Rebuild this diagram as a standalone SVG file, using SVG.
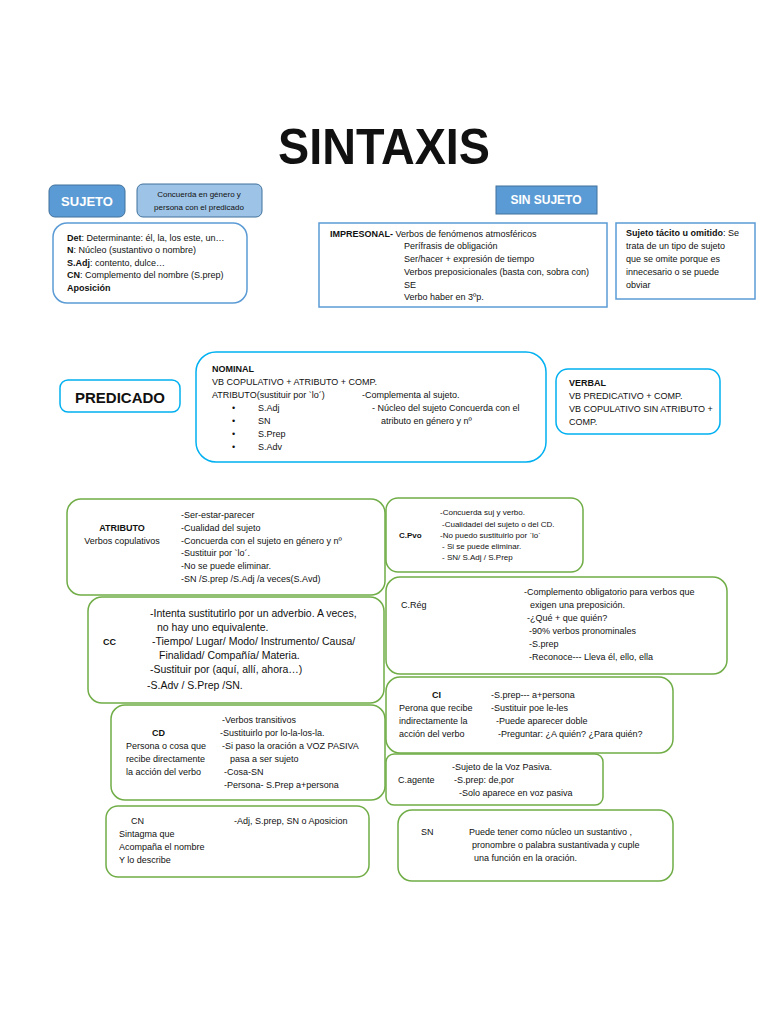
<svg xmlns="http://www.w3.org/2000/svg" width="768" height="1024" viewBox="0 0 768 1024">
<style>
text{font-family:"Liberation Sans",Arial,sans-serif;font-size:9px;fill:#111}
.b{font-weight:bold}
.s{font-size:8px}
.h{font-size:13px;font-weight:bold;fill:#fff}
.blue{fill:#fff;stroke:#5b9bd5;stroke-width:1.5}
.cyan{fill:#fff;stroke:#00b0f0;stroke-width:1.5}
.green{fill:#fff;stroke:#70ad47;stroke-width:1.5}
</style>
<rect width="768" height="1024" fill="#fff"/>
<text x="384" y="164" text-anchor="middle" style="font-size:50px;font-weight:bold" textLength="212" lengthAdjust="spacingAndGlyphs">SINTAXIS</text>
<g id="sujeto"><rect x="49" y="185" width="76" height="32" rx="6" fill="#5b9bd5" stroke="#41719c"/><text x="87" y="206" class="h" text-anchor="middle">SUJETO</text></g>
<g id="concuerda"><rect x="137" y="184" width="125" height="33" rx="6" fill="#9dc3e6" stroke="#41719c"/><text x="199" y="197" class="s" text-anchor="middle">Concuerda en género y</text><text x="199" y="210" class="s" text-anchor="middle">persona con el predicado</text></g>
<g id="sujeto-det"><rect x="53" y="223" width="194" height="80" rx="14" class="blue"/>
<text x="67" y="241"><tspan class="b">Det</tspan>: Determinante: él, la, los este, un…</text>
<text x="67" y="253"><tspan class="b">N</tspan>: Núcleo (sustantivo o nombre)</text>
<text x="67" y="266"><tspan class="b">S.Adj</tspan>: contento, dulce…</text>
<text x="67" y="278"><tspan class="b">CN</tspan>: Complemento del nombre (S.prep)</text>
<text x="67" y="291" class="b">Aposición</text></g>
<g id="sin-sujeto"><rect x="496" y="186" width="101" height="28" fill="#5b9bd5" stroke="#41719c"/><text x="546" y="204" class="h" text-anchor="middle" style="font-size:12px">SIN SUJETO</text></g>
<g id="impersonal"><rect x="319" y="223" width="288" height="84" class="blue"/>
<text x="330" y="237"><tspan class="b">IMPRESONAL-</tspan>  Verbos de fenómenos atmosféricos</text>
<text x="404" y="249">Perífrasis de obligación</text>
<text x="404" y="262">Ser/hacer + expresión de tiempo</text>
<text x="404" y="275">Verbos preposicionales (basta con, sobra con)</text>
<text x="404" y="288">SE</text>
<text x="404" y="300">Verbo haber en 3ºp.</text></g>
<g id="tacito"><rect x="616" y="223" width="139" height="76" class="blue"/>
<text x="626" y="236"><tspan class="b">Sujeto tácito u omitido</tspan>: Se</text>
<text x="626" y="249">trata de un tipo de sujeto</text>
<text x="626" y="262">que se omite porque es</text>
<text x="626" y="275">innecesario o se puede</text>
<text x="626" y="288">obviar</text></g>
<g id="predicado"><rect x="60" y="380" width="120" height="32" rx="8" class="cyan"/><text x="120" y="403" text-anchor="middle" class="b" style="font-size:15px">PREDICADO</text></g>
<g id="nominal"><rect x="196" y="352" width="350" height="110" rx="20" class="cyan"/>
<text x="212" y="372" class="b">NOMINAL</text>
<text x="212" y="385">VB COPULATIVO + ATRIBUTO + COMP.</text>
<text x="212" y="398">ATRIBUTO(sustituir por `lo´)</text>
<text x="362" y="398">-Complementa al sujeto.</text>
<text x="372" y="411">- Núcleo del sujeto Concuerda con el</text>
<text x="381" y="424">atributo en género y nº</text>
<text x="232" y="411">•</text><text x="258" y="411">S.Adj</text>
<text x="232" y="424">•</text><text x="258" y="424">SN</text>
<text x="232" y="437">•</text><text x="258" y="437">S.Prep</text>
<text x="232" y="450">•</text><text x="258" y="450">S.Adv</text></g>
<g id="verbal"><rect x="556" y="369" width="164" height="65" rx="12" class="cyan"/>
<text x="569" y="386" class="b">VERBAL</text>
<text x="569" y="399">VB PREDICATIVO + COMP.</text>
<text x="569" y="412">VB COPULATIVO SIN ATRIBUTO +</text>
<text x="569" y="425">COMP.</text></g>
<g id="atributo"><rect x="67" y="499" width="318" height="96" rx="14" class="green"/>
<text x="122" y="531" text-anchor="middle" class="b">ATRIBUTO</text>
<text x="122" y="544" text-anchor="middle">Verbos copulativos</text>
<text x="181" y="518">-Ser-estar-parecer</text>
<text x="181" y="531">-Cualidad del sujeto</text>
<text x="181" y="544">-Concuerda con el sujeto en género  y nº</text>
<text x="181" y="556">-Sustituir por `lo´.</text>
<text x="181" y="569">-No se puede eliminar.</text>
<text x="181" y="582">-SN /S.prep /S.Adj /a veces(S.Avd)</text></g>
<g id="cpvo"><rect x="386" y="498" width="197" height="74" rx="12" class="green"/>
<text x="399" y="538" class="s b">C.Pvo</text>
<text x="440" y="515" class="s">-Concuerda suj y verbo.</text>
<text x="442" y="527" class="s">-Cualidadel del sujeto o del CD.</text>
<text x="440" y="538" class="s">-No puedo sustituirlo por `lo´</text>
<text x="442" y="549" class="s">- Si se puede eliminar.</text>
<text x="442" y="560" class="s">- SN/ S.Adj / S.Prep</text></g>
<g id="cc"><rect x="88" y="597" width="296" height="106" rx="14" class="green"/>
<text x="103" y="645" class="b">CC</text>
<g style="font-size:10.5px"><text x="150" y="617" style="font-size:10.5px">-Intenta sustitutirlo por un adverbio. A veces,</text>
<text x="157" y="631" style="font-size:10.5px">no hay uno equivalente.</text>
<text x="152" y="645" style="font-size:10.5px">-Tiempo/ Lugar/ Modo/ Instrumento/ Causa/</text>
<text x="159" y="659" style="font-size:10.5px">Finalidad/ Compañía/ Materia.</text>
<text x="150" y="673" style="font-size:10.5px">-Sustituir por (aquí, allí, ahora…)</text>
<text x="147" y="689" style="font-size:10.5px">-S.Adv / S.Prep /SN.</text></g></g>
<g id="creg"><rect x="386" y="577" width="341" height="97" rx="14" class="green"/>
<text x="401" y="608">C.Rég</text>
<text x="524" y="595">-Complemento obligatorio para verbos que</text>
<text x="530" y="608">exigen una preposición.</text>
<text x="527" y="621">-¿Qué + que quién?</text>
<text x="529" y="634">-90% verbos pronominales</text>
<text x="529" y="647">-S.prep</text>
<text x="529" y="660">-Reconoce---   Lleva él, ello, ella</text></g>
<g id="ci"><rect x="386" y="677" width="287" height="76" rx="14" class="green"/>
<text x="432" y="698" class="b">CI</text>
<text x="399" y="711">Perona que recibe</text>
<text x="399" y="724">indirectamente la</text>
<text x="399" y="737">acción del verbo</text>
<text x="491" y="698">-S.prep--- a+persona</text>
<text x="491" y="711">-Sustituir poe le-les</text>
<text x="496" y="724">-Puede aparecer doble</text>
<text x="498" y="737">-Preguntar: ¿A quién? ¿Para quién?</text></g>
<g id="cd"><rect x="111" y="705" width="274" height="95" rx="14" class="green"/>
<text x="152" y="736" class="b">CD</text>
<text x="126" y="749">Persona o cosa que</text>
<text x="126" y="762">recibe directamente</text>
<text x="126" y="775">la acción del verbo</text>
<text x="222" y="723">-Verbos transitivos</text>
<text x="220" y="736">-Sustituirlo por lo-la-los-la.</text>
<text x="222" y="749">-Si paso la oración a VOZ PASIVA</text>
<text x="230" y="762">pasa a ser  sujeto</text>
<text x="224" y="775">-Cosa-SN</text>
<text x="224" y="788">-Persona- S.Prep     a+persona</text></g>
<g id="cagente"><rect x="386" y="754" width="217" height="51" rx="8" class="green"/>
<text x="452" y="770">-Sujeto de la Voz Pasiva.</text>
<text x="398" y="783">C.agente</text>
<text x="454" y="783">-S.prep: de,por</text>
<text x="459" y="796">-Solo aparece en voz pasiva</text></g>
<g id="cn"><rect x="106" y="806" width="263" height="71" rx="12" class="green"/>
<text x="131" y="824">CN</text>
<text x="119" y="837">Sintagma que</text>
<text x="119" y="850">Acompaña el nombre</text>
<text x="119" y="863">Y lo describe</text>
<text x="234" y="824">-Adj, S.prep, SN o Aposicion</text></g>
<g id="sn"><rect x="398" y="810" width="275" height="71" rx="14" class="green"/>
<text x="421" y="835">SN</text>
<text x="469" y="835">Puede tener como núcleo un  sustantivo ,</text>
<text x="472" y="848">pronombre o palabra sustantivada y cuple</text>
<text x="474" y="861">una función en la oración.</text></g>
<g id="connectors"/>
</svg>
